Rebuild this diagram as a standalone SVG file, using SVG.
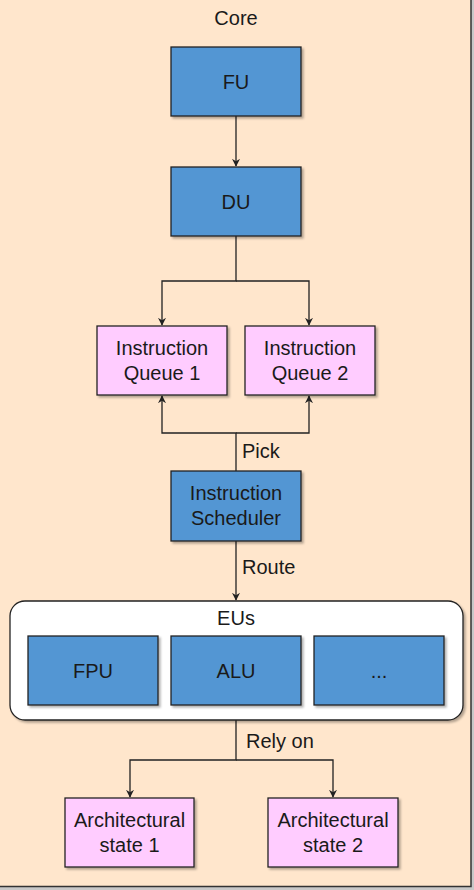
<svg xmlns="http://www.w3.org/2000/svg" width="474" height="890" viewBox="0 0 474 890">
<style>
text{font-family:"Liberation Sans",Arial,Helvetica,sans-serif;font-size:20px;fill:#1a1a1a;text-anchor:middle}
.lbl{text-anchor:start}
.blue{fill:#5396d3;stroke:#222;stroke-width:1.3;filter:url(#sh)}
.pink{fill:#ffccff;stroke:#222;stroke-width:1.3;filter:url(#sh)}
.edge{fill:none;stroke:#222;stroke-width:1.3}
</style>
<defs>
<filter id="sh" x="-10%" y="-10%" width="130%" height="130%">
<feDropShadow dx="2" dy="2" stdDeviation="1.2" flood-color="#000" flood-opacity="0.3"/>
</filter>
<marker id="ar" viewBox="0 0 10 10" refX="9" refY="5" markerWidth="8" markerHeight="8" markerUnits="userSpaceOnUse" orient="auto">
<path d="M0,0 L10,5 L0,10 L3,5 Z" fill="#222"/>
</marker>
</defs>
<rect x="0" y="0" width="474" height="890" fill="#c8c8c8"/>
<g id="core">
<rect x="-2" y="-2" width="473" height="888.5" fill="#ffe6cc" stroke="#333" stroke-width="1.5"/>
<text x="236" y="25">Core</text>
</g>
<g id="connectors">
<path class="edge" d="M236,116 V166" marker-end="url(#ar)"/>
<path class="edge" d="M236,236 V281 H162 V325" marker-end="url(#ar)"/>
<path class="edge" d="M236,281 H309 V325" marker-end="url(#ar)"/>
<path class="edge" d="M236,471 V433 H162 V396" marker-end="url(#ar)"/>
<path class="edge" d="M236,433 H309 V396" marker-end="url(#ar)"/>
<path class="edge" d="M236,541 V600" marker-end="url(#ar)"/>
<path class="edge" d="M236,720 V760 H130 V797" marker-end="url(#ar)"/>
<path class="edge" d="M236,760 H333 V797" marker-end="url(#ar)"/>
<text class="lbl" x="242" y="458">Pick</text>
<text class="lbl" x="242" y="574">Route</text>
<text class="lbl" x="246" y="748">Rely on</text>
</g>
<g id="fu">
<rect class="blue" x="171" y="47" width="130" height="69"/>
<text x="236" y="88.5">FU</text>
</g>
<g id="du">
<rect class="blue" x="171" y="167" width="130" height="69"/>
<text x="236" y="208.5">DU</text>
</g>
<g id="iq1">
<rect class="pink" x="97" y="326" width="130" height="69"/>
<text x="162" y="355">Instruction</text>
<text x="162" y="380">Queue 1</text>
</g>
<g id="iq2">
<rect class="pink" x="245" y="326" width="130" height="69"/>
<text x="310" y="355">Instruction</text>
<text x="310" y="380">Queue 2</text>
</g>
<g id="scheduler">
<rect class="blue" x="171" y="471" width="130" height="70"/>
<text x="236" y="500">Instruction</text>
<text x="236" y="525">Scheduler</text>
</g>
<g id="eus">
<rect x="10" y="601" width="453" height="119" rx="15" ry="15" fill="#ffffff" stroke="#222" stroke-width="1.3" filter="url(#sh)"/>
<text x="236" y="625">EUs</text>
</g>
<g id="fpu">
<rect class="blue" x="28" y="636" width="130" height="69"/>
<text x="93" y="677.5">FPU</text>
</g>
<g id="alu">
<rect class="blue" x="171" y="636" width="130" height="69"/>
<text x="236" y="677.5">ALU</text>
</g>
<g id="more">
<rect class="blue" x="314" y="636" width="130" height="69"/>
<text x="379" y="677.5">...</text>
</g>
<g id="arch1">
<rect class="pink" x="65" y="798" width="129" height="69"/>
<text x="129.5" y="827">Architectural</text>
<text x="129.5" y="852">state 1</text>
</g>
<g id="arch2">
<rect class="pink" x="268" y="798" width="130" height="69"/>
<text x="333" y="827">Architectural</text>
<text x="333" y="852">state 2</text>
</g>
</svg>
